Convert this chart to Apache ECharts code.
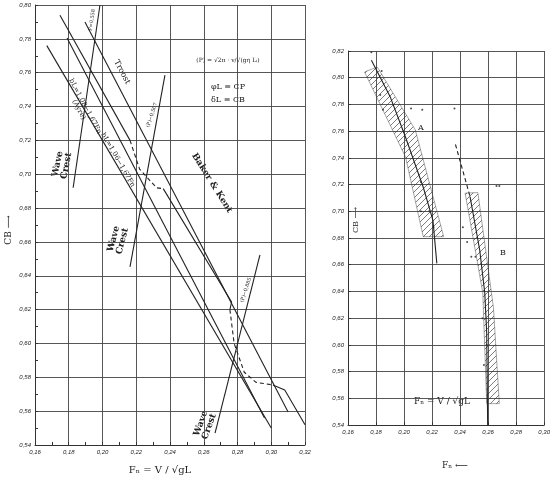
<!DOCTYPE html>
<html><head><meta charset="utf-8">
<script src="https://cdn.jsdelivr.net/npm/echarts@6/dist/echarts.min.js"></script>
<style>html,body{margin:0;background:#fff}#c{width:553px;height:488px}</style>
</head><body><div id="c"></div>
<script>
// left chart curves (Fn, CB)
var bakerKentA = [[0.1748,0.794],[0.2163,0.720]];
var bakerKentDash1 = [[0.2163,0.720],[0.222,0.703],[0.232,0.692],[0.236,0.6915]];
var bakerKentB = [[0.236,0.6915],[0.2765,0.6245],[0.2755,0.620]];
var bakerKentDash2 = [[0.2755,0.620],[0.278,0.600],[0.284,0.583],[0.291,0.577],[0.301,0.5755]];
var bakerKentC = [[0.301,0.5755],[0.308,0.5725],[0.320,0.552]];
var troost = [[0.1896,0.790],[0.310,0.5595]];
var ayre = [[0.179,0.7805],[0.296,0.556]];
var lower = [[0.167,0.776],[0.300,0.550]];
var crest1 = [[0.1985,0.800],[0.1826,0.692]];
var crest2 = [[0.237,0.7586],[0.2163,0.6452]];
var crest3 = [[0.2933,0.6523],[0.2667,0.547]];
// right chart
var curveA = [[0.1767,0.813],[0.190,0.786],[0.201,0.7556],[0.2137,0.718],[0.2206,0.6934],[0.2234,0.661]];
var curveBdash = [[0.2367,0.750],[0.2471,0.711]];
var curveB = [[0.2471,0.711],[0.254,0.671],[0.2576,0.639],[0.259,0.609],[0.2597,0.538]];
var bandA = [[0.1718,0.8043],[0.2011,0.7406],[0.2137,0.681],[0.2283,0.681],[0.208,0.761],[0.1809,0.808]];
var bandB = [[0.2436,0.7136],[0.2562,0.639],[0.259,0.556],[0.268,0.556],[0.2638,0.628],[0.2527,0.714]];
var points = [[0.1767,0.819],[0.184,0.805],[0.183,0.787],[0.185,0.776],[0.205,0.777],[0.213,0.776],[0.212,0.722],
  [0.212,0.700],[0.218,0.700],[0.221,0.688],[0.242,0.688],[0.245,0.677],[0.248,0.666],[0.251,0.666],
  [0.266,0.719],[0.268,0.719],[0.256,0.620],[0.259,0.600],[0.257,0.585],[0.236,0.777]];

var chart = echarts.init(document.getElementById('c'));
var hatch = document.createElement('canvas');
hatch.width = 6; hatch.height = 6;
var hc = hatch.getContext('2d');
hc.strokeStyle = '#333'; hc.lineWidth = 0.8;
hc.beginPath(); hc.moveTo(0,6); hc.lineTo(6,0); hc.stroke();

function fmt(v){ return v.toFixed(2).replace('.', ','); }
function axis(min, max, gi){
  return {type:'value', gridIndex:gi, min:min, max:max, interval:0.02,
    axisLine:{lineStyle:{color:'#333'}}, axisTick:{inside:true,length:3,lineStyle:{color:'#333'}},
    minorTick:{show:gi===0,splitNumber:2,length:3},
    splitLine:{lineStyle:{color:'#444',width:0.9}},
    axisLabel:{formatter:fmt,fontSize:6,fontStyle:'italic',color:'#222',margin:4}};
}
function ln(data, gi, dashed){
  return {type:'line', xAxisIndex:gi, yAxisIndex:gi, data:data, symbol:'none', silent:true,
    lineStyle:{color:'#222', width:1.1, type: dashed ? [4,3] : 'solid'}};
}
function poly(data){
  return {type:'custom', xAxisIndex:1, yAxisIndex:1, silent:true, data:[0],
    renderItem:function(p, api){
      return {type:'polygon', shape:{points:data.map(function(d){return api.coord(d);})},
        style:{fill:{image:hatch,repeat:'repeat'},stroke:'#444',lineWidth:0.6,opacity:0.8}};
    }};
}
function txt(x,y,t,rot,size,bold){
  return {type:'text', x:x, y:y, rotation:(rot||0)*Math.PI/180,
    style:{text:t, fontSize:size||8, fontWeight:bold?'bold':'normal', fill:'#222', fontFamily:'DejaVu Serif', align:'center', verticalAlign:'middle'}};
}
chart.setOption({
  animation:false,
  grid:[{left:35,right:248,top:5,bottom:43},{left:348,right:4,top:51,bottom:63}],
  xAxis:[axis(0.16,0.32,0),axis(0.16,0.30,1)],
  yAxis:[axis(0.54,0.80,0),axis(0.54,0.82,1)],
  series:[
    ln(bakerKentA,0),ln(bakerKentDash1,0,true),ln(bakerKentB,0),ln(bakerKentDash2,0,true),ln(bakerKentC,0),
    ln(troost,0),ln(ayre,0),ln(lower,0),ln(crest1,0),ln(crest2,0),ln(crest3,0),
    poly(bandA),poly(bandB),
    ln(curveA,1),ln(curveBdash,1,true),ln(curveB,1),
    {type:'scatter',xAxisIndex:1,yAxisIndex:1,data:points,symbolSize:2,itemStyle:{color:'#222'},silent:true}
  ],
  graphic:[
    txt(9,230,'CB \u27F6',90,9),
    txt(160,470,'F\u2099 = V / \u221AgL',0,10),
    txt(92,20,'P=0,558',80,5),
    txt(122,72,'Troost',-62,8),
    txt(82,108,'bL=1,08\u22121,67Fn\n(Ayre)',-62,7),
    txt(118,160,'bL=1,06\u22121,67Fn',-60,7),
    txt(62,165,'Wave\nCrest',78,9,true),
    txt(118,240,'Wave\nCrest',75,9,true),
    txt(205,425,'Wave\nCrest',70,9,true),
    txt(152,115,'(P)\u22120,507',72,5),
    txt(246,290,'(P)\u22120,885',72,5),
    txt(212,183,'Baker & Kent',-58,9,true),
    txt(228,60,'(P) = \u221A2\u03C0 \u00B7 v/\u221A(g\u03B7 L\u1D62)',0,6),
    txt(228,87,'\u03C6L \u2261 CP',0,8),
    txt(228,100,'\u03B4L \u2261 CB',0,8),
    txt(356,220,'CB \u27F6',90,8),
    txt(421,128,'A',0,8),
    txt(503,253,'B',0,8),
    txt(442,402,'F\u2099 = V / \u221AgL',0,9),
    txt(455,466,'F\u2099 \u27F5',0,9)
  ]
});
</script></body></html>
